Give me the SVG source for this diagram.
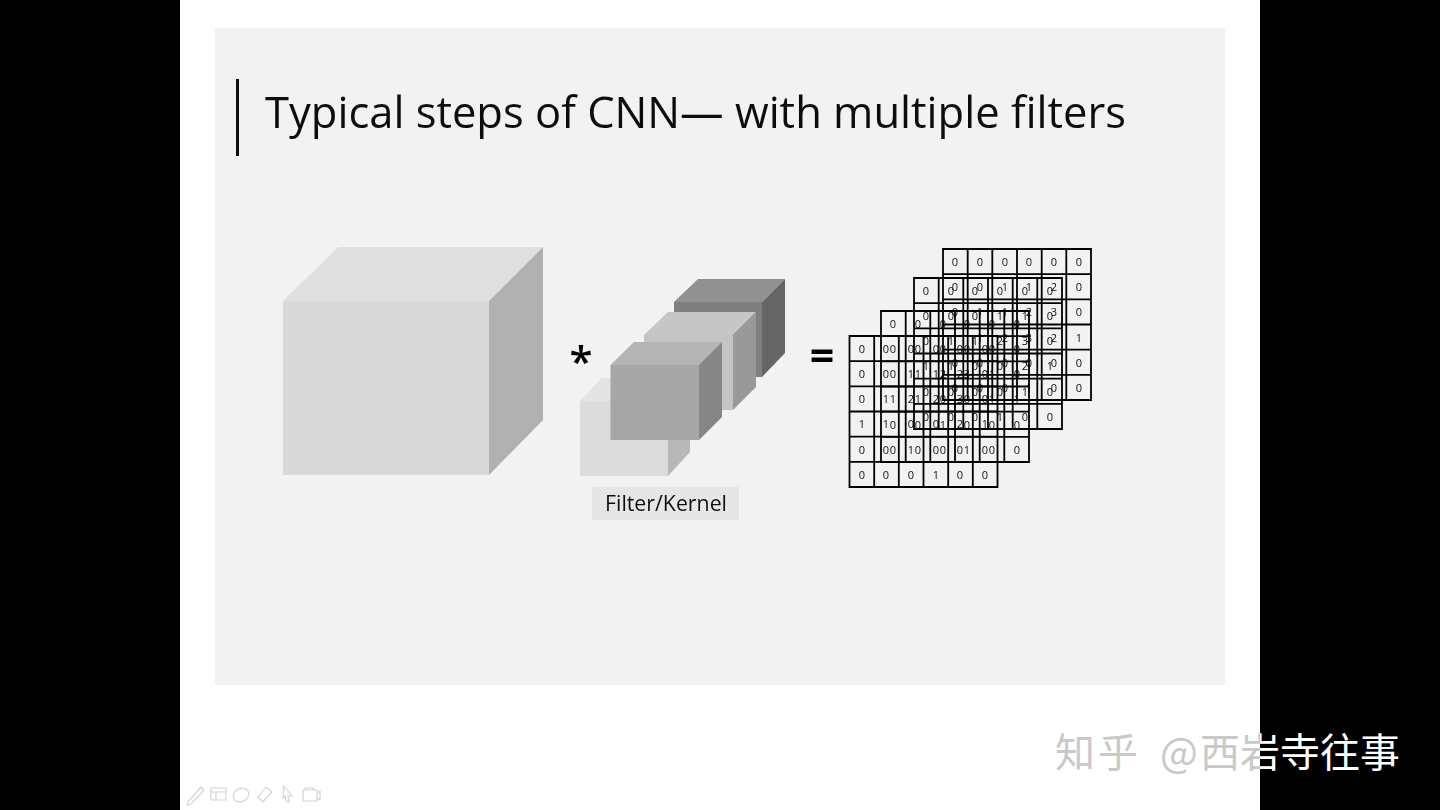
<svg xmlns="http://www.w3.org/2000/svg" width="1440" height="810" viewBox="0 0 1440 810">
<style>
.g{fill:none;stroke:#000;stroke-width:1.8}
.n{font:11px "Open Sans","Liberation Sans",sans-serif;fill:#111;text-anchor:middle}
.ly{filter:url(#soft)}
.ic{fill:none;stroke:#d4d4d4;stroke-width:1.2}
.wm{font:40px "Noto Sans CJK SC",sans-serif}
</style>
<defs>
<filter id="soft" filterUnits="userSpaceOnUse" x="0" y="0" width="1440" height="810"><feGaussianBlur stdDeviation="0.35"/></filter>
<path id="grid" class="g" d="M0 0H148V151H0ZM24.7 0V151M49.3 0V151M74 0V151M98.7 0V151M123.3 0V151M0 25.2H148M0 50.3H148M0 75.5H148M0 100.7H148M0 125.8H148"/>
<clipPath id="cl"><rect x="180" y="700" width="1080" height="110"/></clipPath>
<clipPath id="cr"><rect x="1260" y="700" width="180" height="110"/></clipPath>
</defs>
<rect width="1440" height="810" fill="#000"/>
<rect x="180" width="1080" height="810" fill="#fff"/>
<rect x="215" y="28" width="1010" height="657" fill="#f2f2f2"/>
<g id="title" class="ly">
<rect x="236" y="79" width="3" height="77" fill="#111"/>
<text x="265" y="128" font-family="Open Sans, Liberation Sans, sans-serif" font-size="44" textLength="861" lengthAdjust="spacingAndGlyphs" fill="#111">Typical steps of CNN— with multiple filters</text>
</g>
<g id="input-cube">
<polygon points="283,301 338,247 543,247 489,301" fill="#e0e0e0"/>
<polygon points="489,301 543,247 543,420 489,475" fill="#b0b0b0"/>
<rect x="283" y="301" width="206" height="174" fill="#d9d9d9"/>
</g>
<g id="filter-3">
<polygon points="674,302 698,279 785,279 762,302" fill="#919191"/>
<polygon points="762,302 785,279 785,353 762,377" fill="#656565"/>
<rect x="674" y="302" width="88" height="75" fill="#7f7f7f"/>
</g>
<g id="filter-2">
<polygon points="644,335 668,312 756,312 733,335" fill="#c6c6c6"/>
<polygon points="733,335 756,312 756,387 733,410" fill="#999"/>
<rect x="644" y="335" width="89" height="75" fill="#c4c4c4"/>
</g>
<g id="filter-light">
<polygon points="580,401 602,378 690,378 668,401" fill="#e4e4e4"/>
<polygon points="668,401 690,378 690,452 668,476" fill="#b8b8b8"/>
<rect x="580" y="401" width="88" height="75" fill="#dcdcdc"/>
</g>
<g id="filter-1">
<polygon points="610.5,365 634,342 722,342 699,365" fill="#b4b4b4"/>
<polygon points="699,365 722,342 722,417 699,440" fill="#868686"/>
<rect x="610.5" y="365" width="88.5" height="75" fill="#a6a6a6"/>
</g>
<g id="operators" class="ly" font-family="Open Sans, Liberation Sans, sans-serif" fill="#000" text-anchor="middle">
<text x="581" y="376" font-size="42" font-weight="600">*</text>
<text x="822" y="371" font-size="43" font-weight="700">=</text>
</g>
<g id="filter-label" class="ly">
<rect x="592" y="487" width="147" height="33" fill="#e6e6e6"/>
<text x="666" y="511" font-family="Open Sans, Liberation Sans, sans-serif" font-size="22" text-anchor="middle" textLength="122" lengthAdjust="spacingAndGlyphs" fill="#111">Filter/Kernel</text>
</g>
<g id="grid-a" class="ly">
<use href="#grid" x="943" y="249"/>
<text class="n" y="266"><tspan x="955">0</tspan><tspan x="980">0</tspan><tspan x="1005">0</tspan><tspan x="1029">0</tspan><tspan x="1054">0</tspan><tspan x="1079">0</tspan></text>
<text class="n" y="291"><tspan x="955">0</tspan><tspan x="980">0</tspan><tspan x="1005">1</tspan><tspan x="1029">1</tspan><tspan x="1054">2</tspan><tspan x="1079">0</tspan></text>
<text class="n" y="316"><tspan x="955">0</tspan><tspan x="980">1</tspan><tspan x="1005">1</tspan><tspan x="1029">2</tspan><tspan x="1054">3</tspan><tspan x="1079">0</tspan></text>
<text class="n" y="342"><tspan x="955">1</tspan><tspan x="980">1</tspan><tspan x="1005">2</tspan><tspan x="1029">3</tspan><tspan x="1054">2</tspan><tspan x="1079">1</tspan></text>
<text class="n" y="367"><tspan x="955">0</tspan><tspan x="980">0</tspan><tspan x="1005">0</tspan><tspan x="1029">0</tspan><tspan x="1054">0</tspan><tspan x="1079">0</tspan></text>
<text class="n" y="392"><tspan x="955">0</tspan><tspan x="980">0</tspan><tspan x="1005">0</tspan><tspan x="1029">1</tspan><tspan x="1054">0</tspan><tspan x="1079">0</tspan></text>
</g>
<g id="grid-b" class="ly">
<use href="#grid" x="914" y="278"/>
<text class="n" y="295"><tspan x="926">0</tspan><tspan x="951">0</tspan><tspan x="975">0</tspan><tspan x="1000">0</tspan><tspan x="1025">0</tspan><tspan x="1050">0</tspan></text>
<text class="n" y="320"><tspan x="926">0</tspan><tspan x="951">0</tspan><tspan x="975">0</tspan><tspan x="1000">1</tspan><tspan x="1025">1</tspan><tspan x="1050">0</tspan></text>
<text class="n" y="345"><tspan x="926">0</tspan><tspan x="951">1</tspan><tspan x="975">1</tspan><tspan x="1000">2</tspan><tspan x="1025">3</tspan><tspan x="1050">0</tspan></text>
<text class="n" y="370"><tspan x="926">1</tspan><tspan x="951">1</tspan><tspan x="975">0</tspan><tspan x="1000">0</tspan><tspan x="1025">2</tspan><tspan x="1050">1</tspan></text>
<text class="n" y="396"><tspan x="926">0</tspan><tspan x="951">0</tspan><tspan x="975">0</tspan><tspan x="1000">0</tspan><tspan x="1025">1</tspan><tspan x="1050">0</tspan></text>
<text class="n" y="421"><tspan x="926">0</tspan><tspan x="951">0</tspan><tspan x="975">0</tspan><tspan x="1000">1</tspan><tspan x="1025">0</tspan><tspan x="1050">0</tspan></text>
</g>
<g id="grid-c" class="ly">
<use href="#grid" x="881" y="311"/>
<text class="n" y="328"><tspan x="893">0</tspan><tspan x="918">0</tspan><tspan x="943">0</tspan><tspan x="967">0</tspan><tspan x="992">0</tspan><tspan x="1017">0</tspan></text>
<text class="n" y="353"><tspan x="893">0</tspan><tspan x="918">0</tspan><tspan x="943">0</tspan><tspan x="967">0</tspan><tspan x="992">0</tspan><tspan x="1017">0</tspan></text>
<text class="n" y="378"><tspan x="893">0</tspan><tspan x="918">1</tspan><tspan x="943">2</tspan><tspan x="967">3</tspan><tspan x="992">1</tspan><tspan x="1017">0</tspan></text>
<text class="n" y="403"><tspan x="893">1</tspan><tspan x="918">1</tspan><tspan x="943">0</tspan><tspan x="967">0</tspan><tspan x="992">1</tspan><tspan x="1017">1</tspan></text>
<text class="n" y="429"><tspan x="893">0</tspan><tspan x="918">0</tspan><tspan x="943">1</tspan><tspan x="967">0</tspan><tspan x="992">0</tspan><tspan x="1017">0</tspan></text>
<text class="n" y="454"><tspan x="893">0</tspan><tspan x="918">0</tspan><tspan x="943">0</tspan><tspan x="967">1</tspan><tspan x="992">0</tspan><tspan x="1017">0</tspan></text>
</g>
<g id="grid-d" class="ly">
<use href="#grid" x="849.5" y="336"/>
<text class="n" y="353"><tspan x="862">0</tspan><tspan x="886">0</tspan><tspan x="911">0</tspan><tspan x="936">0</tspan><tspan x="960">0</tspan><tspan x="985">0</tspan></text>
<text class="n" y="378"><tspan x="862">0</tspan><tspan x="886">0</tspan><tspan x="911">1</tspan><tspan x="936">1</tspan><tspan x="960">2</tspan><tspan x="985">0</tspan></text>
<text class="n" y="403"><tspan x="862">0</tspan><tspan x="886">1</tspan><tspan x="911">2</tspan><tspan x="936">2</tspan><tspan x="960">3</tspan><tspan x="985">0</tspan></text>
<text class="n" y="428"><tspan x="862">1</tspan><tspan x="886">1</tspan><tspan x="911">0</tspan><tspan x="936">0</tspan><tspan x="960">2</tspan><tspan x="985">1</tspan></text>
<text class="n" y="454"><tspan x="862">0</tspan><tspan x="886">0</tspan><tspan x="911">1</tspan><tspan x="936">0</tspan><tspan x="960">0</tspan><tspan x="985">0</tspan></text>
<text class="n" y="479"><tspan x="862">0</tspan><tspan x="886">0</tspan><tspan x="911">0</tspan><tspan x="936">1</tspan><tspan x="960">0</tspan><tspan x="985">0</tspan></text>
</g>
<g id="toolbar" class="ic">
<path d="M188 802l13-15 3 3-13 14-4 1z"/>
<path d="M211 788h15v12h-15zM211 792h15M216 792v8"/>
<ellipse cx="241" cy="795" rx="8" ry="6.5" transform="rotate(-25 241 795)"/>
<path d="M258 797l8-10 6 5-9 10z"/>
<path d="M284 786l8 10-4 0 1 6-3-1-1-5-2 2z"/>
<path d="M303 790h14v11h-14zM317 793l3-2v9l-3-2M305 790v-2h8v2"/>
</g>
<g id="watermark" class="wm">
<text x="1055 1098 1160 1200 1240 1280 1320 1360" y="767" fill="#c9c9c9" clip-path="url(#cl)">知乎@西岩寺往事</text>
<text x="1055 1098 1160 1200 1240 1280 1320 1360" y="767" fill="#fff" clip-path="url(#cr)">知乎@西岩寺往事</text>
</g>
</svg>
